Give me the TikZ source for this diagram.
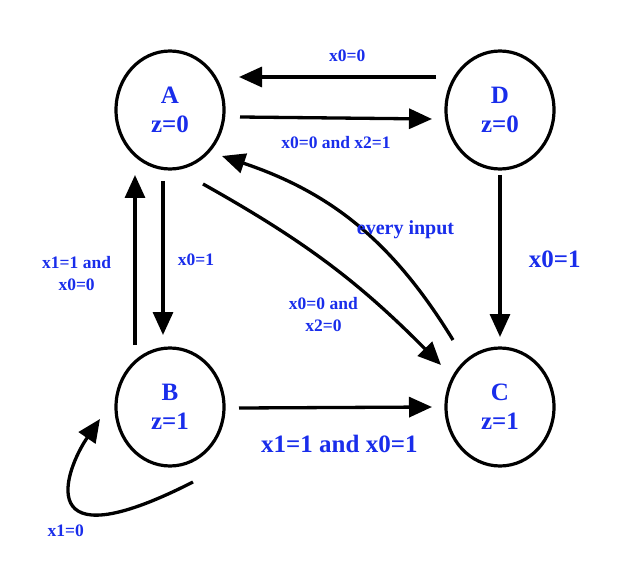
\documentclass[tikz,border=0pt]{standalone}
\usepackage{fontspec}
\setmainfont{Liberation Serif}
\usepackage{tikz}
\usetikzlibrary{shapes.geometric, arrows.meta, positioning}
\definecolor{stateblue}{RGB}{25,45,235}
\tikzstyle{state} = [ellipse, minimum width=108pt, minimum height=118pt, inner sep=0pt, line width=3.2pt, draw=black, text=stateblue, font=\bfseries\fontsize{25}{29}\selectfont, align=center]
\tikzstyle{cond} = [text=stateblue, font=\bfseries\fontsize{17.5}{22}\selectfont, align=center]
\tikzstyle{bigcond} = [text=stateblue, font=\bfseries\fontsize{25}{29}\selectfont, align=center]
\tikzstyle{arrow} = [line width=3.3pt, -{Triangle[length=23pt,width=20pt]}]

\begin{document}
\begin{tikzpicture}[x=1pt, y=1pt, node distance=330pt]
\useasboundingbox (0,0) rectangle (618,-572);
\node (A) [state] at (170,-110) {A\\z=0};
\node (D) [state, right of=A] {D\\z=0};
\node (B) [state, below of=A, node distance=297pt] {B\\z=1};
\node (C) [state, right of=B] {C\\z=1};

\draw [arrow] ([xshift=-64pt,yshift=33pt]D.center) -- node[cond, pos=0.45, above=10pt]{x0=0} ([xshift=69pt,yshift=33pt]A.center);
\draw [arrow] ([xshift=70pt,yshift=-7pt]A.center) -- node[cond, pos=0.5, below=13pt]{x0=0 and x2=1} ([xshift=-68pt,yshift=-9pt]D.center);
\draw [arrow] ([xshift=-7pt,yshift=-71pt]A.center) -- node[cond, pos=0.51, right=10pt]{x0=1} ([xshift=-7pt,yshift=72pt]B.center);
\draw [arrow] ([xshift=-35pt,yshift=62pt]B.center) -- node[cond, pos=0.42, left=19pt]{x1=1 and\\x0=0} ([xshift=-35pt,yshift=-65pt]A.center);
\draw [arrow] ([yshift=-65pt]D.center) -- node[bigcond, pos=0.52, right=24pt]{x0=1} ([yshift=70pt]C.center);
\draw [arrow] ([xshift=69pt,yshift=-1pt]B.center) -- node[bigcond, pos=0.52, below=23pt]{x1=1 and x0=1} ([xshift=-68pt]C.center);
\draw [arrow] ([xshift=33pt,yshift=-74pt]A.center) to[bend left=8] node[cond, pos=0.5, below=28pt, xshift=-6pt]{x0=0 and\\x2=0} ([xshift=-59pt,yshift=42pt]C.center);
\draw [arrow] ([xshift=-47pt,yshift=67pt]C.center) to[bend right=20] node[cond, font=\bfseries\fontsize{20}{24}\selectfont, pos=0.5, right=-4pt, yshift=-5pt]{every input} ([xshift=52pt,yshift=-46pt]A.center);
\draw [arrow] ([xshift=23pt,yshift=-75pt]B.center) .. controls +(-163,-83) and +(-35,-51) .. node[cond, pos=0.3, below left=8pt]{x1=0} ([xshift=-70pt,yshift=-12pt]B.center);
\end{tikzpicture}
\end{document}
